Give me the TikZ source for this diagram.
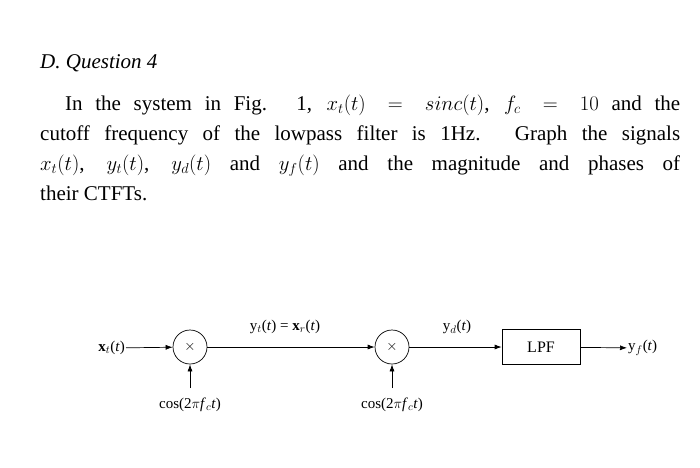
\documentclass[tikz,border=0pt]{standalone}
\usepackage{fontspec}
\setmainfont{Liberation Serif}
\usetikzlibrary{arrows.meta}
\tikzset{
 body/.style={anchor=base west,inner sep=0,font=\fontsize{21}{25}\selectfont},
 lbl/.style={inner sep=1pt,font=\fontsize{15}{18}\selectfont},
 mult/.style={draw,circle,minimum size=34pt,inner sep=0,line width=0.7pt},
 blk/.style={draw,minimum width=78pt,minimum height=35pt,line width=0.7pt,font=\fontsize{16}{18}\selectfont},
 sig/.style={line width=0.7pt,-{Latex[length=7pt,width=5pt]}}
}
\begin{document}
\begin{tikzpicture}[x=1pt,y=-1pt]
\useasboundingbox (0,0) rectangle (700,467);
\node[body] (h) at (40,68) {\textit{D. Question 4}};
\node[body] (l1) at (65,110) {\makebox[615pt][s]{In the system in Fig. 1, $x_t(t) = sinc(t)$, $f_c = 10$ and the}};
\node[body] (l2) at (40,140) {\makebox[640pt][s]{cutoff frequency of the lowpass filter is 1Hz. Graph the signals}};
\node[body] (l3) at (40,170) {\makebox[640pt][s]{$x_t(t)$, $y_t(t)$, $y_d(t)$ and $y_f(t)$ and the magnitude and phases of}};
\node[body] (l4) at (40,200) {their CTFTs.};

\node[lbl,anchor=east] (xt) at (126,348) {\textbf{x}$_t$(\textit{t})};
\node[mult] (m1) at (190,347) {\Large$\times$};
\node[mult] (m2) at (392,347) {\Large$\times$};
\node[blk] (lpf) at (541,347) {LPF};
\node[lbl,anchor=west] (yf) at (627,348) {y$_f$(\textit{t})};
\node[lbl,anchor=north] (c1) at (190,397) {cos(2$\pi$\textit{f}$_c$\textit{t})};
\node[lbl,anchor=north] (c2) at (392,397) {cos(2$\pi$\textit{f}$_c$\textit{t})};
\coordinate (b1) at (190,388);
\coordinate (b2) at (392,388);
\node[lbl] (yt) at (285,327) {y$_t$(\textit{t}) = \textbf{x}$_r$(\textit{t})};
\node[lbl] (yd) at (457,327) {y$_d$(\textit{t})};

\draw[sig] (xt) -- (m1);
\draw[sig] (m1) -- (m2);
\draw[sig] (m2) -- (lpf);
\draw[sig] (lpf) -- (yf);
\draw[sig] (b1) -- (m1);
\draw[sig] (b2) -- (m2);
\end{tikzpicture}
\end{document}
